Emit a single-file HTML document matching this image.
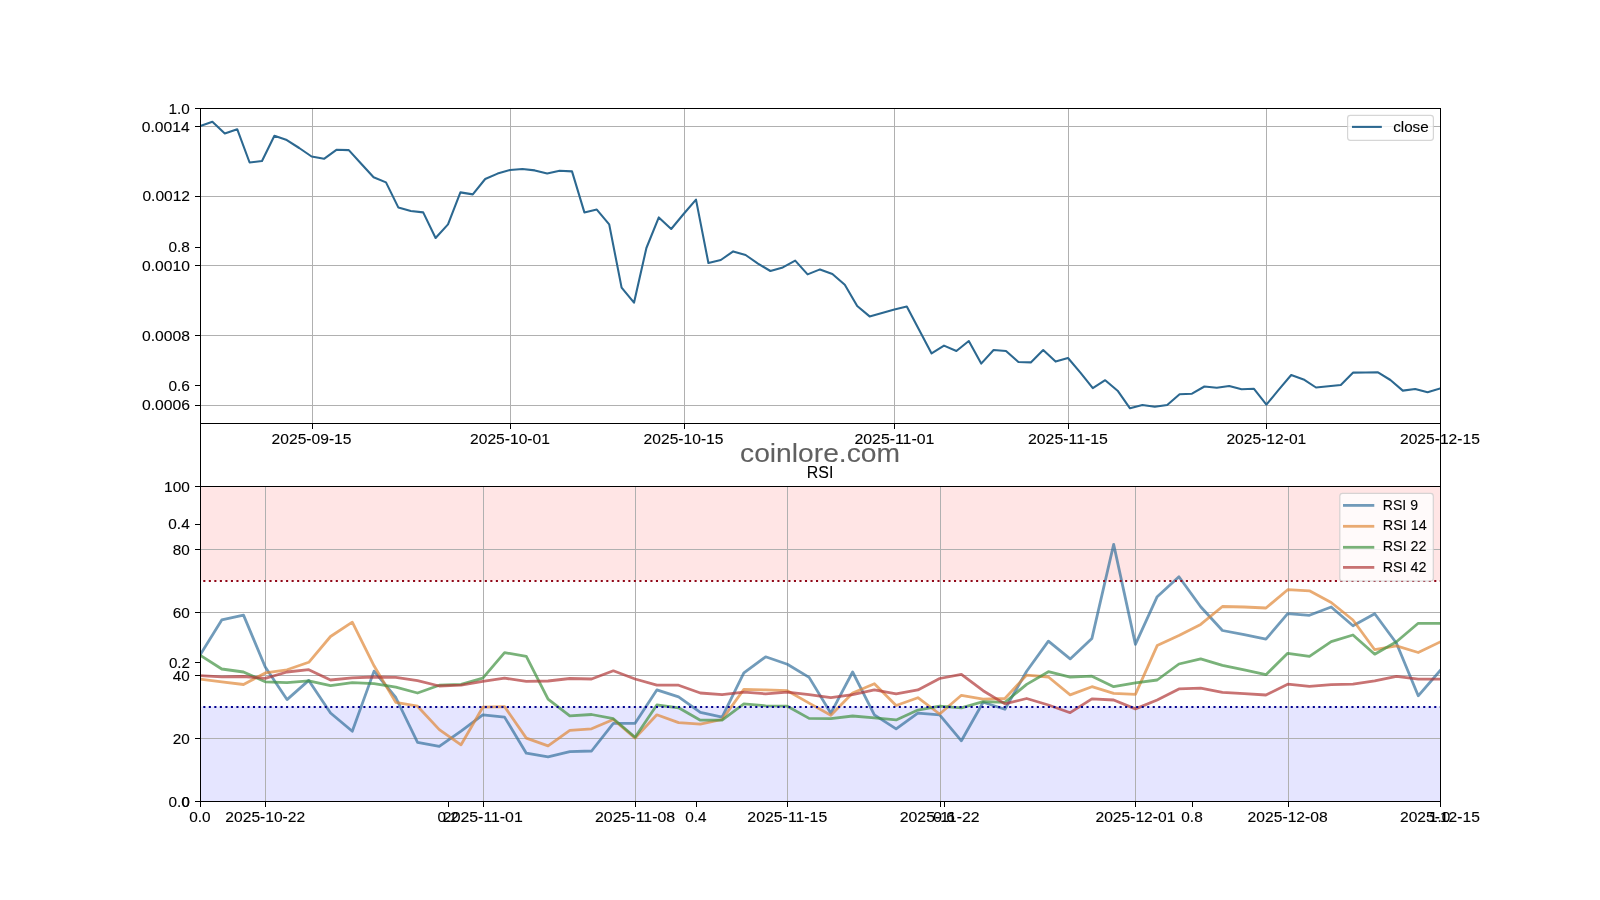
<!DOCTYPE html>
<html><head><meta charset="utf-8"><title>coinlore RSI chart</title>
<style>
html,body{margin:0;padding:0;background:#fff;width:1600px;height:900px;overflow:hidden}
svg{display:block;will-change:transform}
text{font-family:"Liberation Sans",sans-serif;stroke:currentColor;stroke-width:0.1px}
</style></head><body>
<svg width="1600" height="900" viewBox="0 0 1600 900" shape-rendering="geometricPrecision">
<rect width="1600" height="900" fill="#fff"/>
<rect x="200" y="108" width="1241" height="1" fill="#000"/>
<rect x="200" y="801" width="1241" height="1" fill="#000"/>
<rect x="200" y="108" width="1" height="694" fill="#000"/>
<rect x="1440" y="108" width="1" height="694" fill="#000"/>
<rect x="195" y="801" width="5" height="1" fill="#000"/>
<text x="168.46" y="807.00" font-size="14.10" textLength="21.37" lengthAdjust="spacingAndGlyphs" fill="#000" color="#000">0.0</text>
<rect x="200" y="802" width="1" height="5" fill="#000"/>
<text x="189.30" y="821.60" font-size="14.10" textLength="21.37" lengthAdjust="spacingAndGlyphs" fill="#000" color="#000">0.0</text>
<rect x="195" y="662" width="5" height="1" fill="#000"/>
<text x="168.92" y="668.00" font-size="14.10" textLength="21.10" lengthAdjust="spacingAndGlyphs" fill="#000" color="#000">0.2</text>
<rect x="448" y="802" width="1" height="5" fill="#000"/>
<text x="437.53" y="821.60" font-size="14.10" textLength="21.10" lengthAdjust="spacingAndGlyphs" fill="#000" color="#000">0.2</text>
<rect x="195" y="524" width="5" height="1" fill="#000"/>
<text x="168.32" y="529.00" font-size="14.10" textLength="21.36" lengthAdjust="spacingAndGlyphs" fill="#000" color="#000">0.4</text>
<rect x="696" y="802" width="1" height="5" fill="#000"/>
<text x="685.23" y="821.60" font-size="14.10" textLength="21.36" lengthAdjust="spacingAndGlyphs" fill="#000" color="#000">0.4</text>
<rect x="195" y="385" width="5" height="1" fill="#000"/>
<text x="168.42" y="391.00" font-size="14.10" textLength="21.49" lengthAdjust="spacingAndGlyphs" fill="#000" color="#000">0.6</text>
<rect x="944" y="802" width="1" height="5" fill="#000"/>
<text x="933.27" y="821.60" font-size="14.10" textLength="21.49" lengthAdjust="spacingAndGlyphs" fill="#000" color="#000">0.6</text>
<rect x="195" y="247" width="5" height="1" fill="#000"/>
<text x="168.49" y="252.00" font-size="14.10" textLength="21.42" lengthAdjust="spacingAndGlyphs" fill="#000" color="#000">0.8</text>
<rect x="1192" y="802" width="1" height="5" fill="#000"/>
<text x="1181.31" y="821.60" font-size="14.10" textLength="21.42" lengthAdjust="spacingAndGlyphs" fill="#000" color="#000">0.8</text>
<rect x="195" y="108" width="5" height="1" fill="#000"/>
<text x="168.55" y="114.00" font-size="14.10" textLength="21.28" lengthAdjust="spacingAndGlyphs" fill="#000" color="#000">1.0</text>
<rect x="1440" y="802" width="1" height="5" fill="#000"/>
<text x="1429.07" y="821.60" font-size="14.10" textLength="21.28" lengthAdjust="spacingAndGlyphs" fill="#000" color="#000">1.0</text>
<rect x="201" y="109" width="1239" height="314" fill="#fff"/>
<rect x="312" y="108" width="1" height="315" fill="#b0b0b0"/>
<rect x="510" y="108" width="1" height="315" fill="#b0b0b0"/>
<rect x="684" y="108" width="1" height="315" fill="#b0b0b0"/>
<rect x="894" y="108" width="1" height="315" fill="#b0b0b0"/>
<rect x="1068" y="108" width="1" height="315" fill="#b0b0b0"/>
<rect x="1266" y="108" width="1" height="315" fill="#b0b0b0"/>
<rect x="1440" y="108" width="1" height="315" fill="#b0b0b0"/>
<rect x="200" y="126" width="1240" height="1" fill="#b0b0b0"/>
<rect x="200" y="196" width="1240" height="1" fill="#b0b0b0"/>
<rect x="200" y="265" width="1240" height="1" fill="#b0b0b0"/>
<rect x="200" y="335" width="1240" height="1" fill="#b0b0b0"/>
<rect x="200" y="405" width="1240" height="1" fill="#b0b0b0"/>
<clipPath id="c1"><rect x="200" y="108" width="1241" height="316"/></clipPath>
<polyline clip-path="url(#c1)" points="200.00,126.10 212.40,121.80 224.80,133.40 237.20,129.20 249.60,162.50 262.00,161.00 274.40,135.80 286.80,140.10 299.20,148.00 311.60,156.50 324.00,158.80 336.40,149.80 348.80,150.10 361.20,163.80 373.60,177.30 386.00,182.40 398.40,207.60 410.80,211.00 423.20,212.40 435.60,238.00 448.00,224.40 460.40,192.40 472.80,194.40 485.20,179.00 497.60,173.60 510.00,170.00 522.40,169.00 534.80,170.40 547.20,173.40 559.60,170.80 572.00,171.40 584.40,212.40 596.80,209.60 609.20,224.40 621.60,287.60 634.00,302.70 646.40,248.00 658.80,217.40 671.20,229.00 683.60,214.00 696.00,199.60 708.40,263.00 720.80,260.00 733.20,251.40 745.60,255.00 758.00,263.60 770.40,271.00 782.80,267.40 795.20,260.60 807.60,274.40 820.00,269.40 832.40,274.00 844.80,284.70 857.20,306.00 869.60,316.40 882.00,313.00 894.40,309.60 906.80,306.60 919.20,330.00 931.60,353.40 944.00,345.60 956.40,351.00 968.80,341.00 981.20,363.60 993.60,350.00 1006.00,351.00 1018.40,362.00 1030.80,362.40 1043.20,350.00 1055.60,361.60 1068.00,358.00 1080.40,372.70 1092.80,388.20 1105.20,380.20 1117.60,390.70 1130.00,408.30 1142.40,405.00 1154.80,406.80 1167.20,405.00 1179.60,394.20 1192.00,393.70 1204.40,386.50 1216.80,387.70 1229.20,386.00 1241.60,389.20 1254.00,388.80 1266.40,404.60 1278.80,389.70 1291.20,375.00 1303.60,379.40 1316.00,387.50 1328.40,386.20 1340.80,385.00 1353.20,372.60 1365.60,372.50 1378.00,372.30 1390.40,380.00 1402.80,390.60 1415.20,389.00 1427.60,392.20 1440.00,388.50" fill="none" stroke="#2c6890" stroke-width="2.08" stroke-linejoin="round" stroke-linecap="square"/>
<rect x="1347.6" y="115.3" width="85.8" height="25.1" rx="2.8" fill="#fff" fill-opacity="0.8" stroke="#ccc" stroke-opacity="0.8" stroke-width="1.2"/>
<line x1="1353.0" y1="126.9" x2="1380.8" y2="126.9" stroke="#2c6890" stroke-width="2.08" stroke-linecap="square"/>
<text x="1393.20" y="131.90" font-size="14.10" textLength="35.50" lengthAdjust="spacingAndGlyphs" fill="#000" color="#000">close</text>
<rect x="200" y="108" width="1241" height="1" fill="#000"/>
<rect x="200" y="423" width="1241" height="1" fill="#000"/>
<rect x="200" y="108" width="1" height="316" fill="#000"/>
<rect x="1440" y="108" width="1" height="316" fill="#000"/>
<rect x="312" y="424" width="1" height="5" fill="#000"/>
<text x="271.61" y="444.10" font-size="14.10" textLength="79.82" lengthAdjust="spacingAndGlyphs" fill="#000" color="#000">2025-09-15</text>
<rect x="510" y="424" width="1" height="5" fill="#000"/>
<text x="470.05" y="444.10" font-size="14.10" textLength="79.87" lengthAdjust="spacingAndGlyphs" fill="#000" color="#000">2025-10-01</text>
<rect x="684" y="424" width="1" height="5" fill="#000"/>
<text x="643.61" y="444.10" font-size="14.10" textLength="79.82" lengthAdjust="spacingAndGlyphs" fill="#000" color="#000">2025-10-15</text>
<rect x="894" y="424" width="1" height="5" fill="#000"/>
<text x="854.44" y="444.10" font-size="14.10" textLength="79.91" lengthAdjust="spacingAndGlyphs" fill="#000" color="#000">2025-11-01</text>
<rect x="1068" y="424" width="1" height="5" fill="#000"/>
<text x="1028.00" y="444.10" font-size="14.10" textLength="79.86" lengthAdjust="spacingAndGlyphs" fill="#000" color="#000">2025-11-15</text>
<rect x="1266" y="424" width="1" height="5" fill="#000"/>
<text x="1226.45" y="444.10" font-size="14.10" textLength="79.87" lengthAdjust="spacingAndGlyphs" fill="#000" color="#000">2025-12-01</text>
<rect x="1440" y="424" width="1" height="5" fill="#000"/>
<text x="1400.01" y="444.10" font-size="14.10" textLength="79.82" lengthAdjust="spacingAndGlyphs" fill="#000" color="#000">2025-12-15</text>
<rect x="195" y="126" width="5" height="1" fill="#000"/>
<text x="141.81" y="132.00" font-size="14.10" textLength="47.89" lengthAdjust="spacingAndGlyphs" fill="#000" color="#000">0.0014</text>
<rect x="195" y="196" width="5" height="1" fill="#000"/>
<text x="142.40" y="201.00" font-size="14.10" textLength="47.64" lengthAdjust="spacingAndGlyphs" fill="#000" color="#000">0.0012</text>
<rect x="195" y="265" width="5" height="1" fill="#000"/>
<text x="141.95" y="271.00" font-size="14.10" textLength="47.91" lengthAdjust="spacingAndGlyphs" fill="#000" color="#000">0.0010</text>
<rect x="195" y="335" width="5" height="1" fill="#000"/>
<text x="141.98" y="341.00" font-size="14.10" textLength="47.95" lengthAdjust="spacingAndGlyphs" fill="#000" color="#000">0.0008</text>
<rect x="195" y="405" width="5" height="1" fill="#000"/>
<text x="141.91" y="410.00" font-size="14.10" textLength="48.02" lengthAdjust="spacingAndGlyphs" fill="#000" color="#000">0.0006</text>
<rect x="201" y="487" width="1239" height="314" fill="#fff"/>
<rect x="201" y="487" width="1239" height="93.50" fill="#ffe5e5"/>
<rect x="201" y="706.5" width="1239" height="94.50" fill="#e5e5ff"/>
<rect x="265" y="486" width="1" height="315" fill="#b0b0b0"/>
<rect x="483" y="486" width="1" height="315" fill="#b0b0b0"/>
<rect x="635" y="486" width="1" height="315" fill="#b0b0b0"/>
<rect x="787" y="486" width="1" height="315" fill="#b0b0b0"/>
<rect x="940" y="486" width="1" height="315" fill="#b0b0b0"/>
<rect x="1135" y="486" width="1" height="315" fill="#b0b0b0"/>
<rect x="1288" y="486" width="1" height="315" fill="#b0b0b0"/>
<rect x="1440" y="486" width="1" height="315" fill="#b0b0b0"/>
<rect x="200" y="801" width="1240" height="1" fill="#b0b0b0"/>
<rect x="200" y="738" width="1240" height="1" fill="#b0b0b0"/>
<rect x="200" y="675" width="1240" height="1" fill="#b0b0b0"/>
<rect x="200" y="612" width="1240" height="1" fill="#b0b0b0"/>
<rect x="200" y="549" width="1240" height="1" fill="#b0b0b0"/>
<rect x="200" y="486" width="1240" height="1" fill="#b0b0b0"/>
<clipPath id="c2"><rect x="200" y="486" width="1241" height="316"/></clipPath>
<polyline clip-path="url(#c2)" points="200.00,655.10 221.75,619.90 243.51,615.10 265.26,667.00 287.02,699.60 308.77,680.40 330.52,713.00 352.28,731.30 374.03,671.10 395.79,697.50 417.54,742.30 439.29,746.40 461.05,731.10 482.80,714.80 504.56,717.10 526.31,753.20 548.06,756.80 569.82,751.70 591.57,751.00 613.33,723.30 635.08,723.30 656.83,689.90 678.59,696.90 700.34,712.40 722.10,717.10 743.85,672.80 765.60,656.80 787.36,664.20 809.11,677.40 830.87,713.20 852.62,672.00 874.37,714.80 896.13,728.80 917.88,713.20 939.64,714.80 961.39,740.80 983.14,702.30 1004.90,709.30 1026.65,671.20 1048.41,641.10 1070.16,658.90 1091.91,638.40 1113.67,544.40 1135.42,644.40 1157.18,596.70 1178.93,576.70 1200.68,606.70 1222.44,630.50 1244.19,634.70 1265.95,639.20 1287.70,613.70 1309.45,615.30 1331.21,607.00 1352.96,625.80 1374.72,613.70 1396.47,643.30 1418.22,695.80 1439.98,670.80" fill="none" stroke="#34719c" stroke-opacity="0.7" stroke-width="2.78" stroke-linejoin="round" stroke-linecap="square"/>
<polyline clip-path="url(#c2)" points="200.00,679.20 221.75,681.80 243.51,684.50 265.26,672.90 287.02,669.80 308.77,662.30 330.52,636.50 352.28,622.20 374.03,665.80 395.79,702.40 417.54,706.20 439.29,729.60 461.05,744.80 482.80,707.20 504.56,706.60 526.31,738.10 548.06,745.90 569.82,730.30 591.57,728.80 613.33,719.50 635.08,738.10 656.83,714.80 678.59,722.60 700.34,724.10 722.10,719.50 743.85,689.40 765.60,689.90 787.36,690.70 809.11,703.10 830.87,715.30 852.62,693.00 874.37,683.70 896.13,705.50 917.88,697.70 939.64,714.00 961.39,695.30 983.14,699.20 1004.90,698.50 1026.65,675.10 1048.41,677.00 1070.16,694.90 1091.91,686.70 1113.67,693.30 1135.42,694.40 1157.18,645.60 1178.93,635.60 1200.68,624.40 1222.44,606.50 1244.19,607.00 1265.95,608.00 1287.70,589.70 1309.45,590.80 1331.21,602.50 1352.96,620.00 1374.72,649.70 1396.47,645.80 1418.22,652.50 1439.98,642.00" fill="none" stroke="#e08738" stroke-opacity="0.7" stroke-width="2.78" stroke-linejoin="round" stroke-linecap="square"/>
<polyline clip-path="url(#c2)" points="200.00,655.10 221.75,669.00 243.51,672.00 265.26,681.80 287.02,682.70 308.77,680.90 330.52,685.70 352.28,682.70 374.03,683.70 395.79,687.20 417.54,693.00 439.29,685.20 461.05,684.40 482.80,678.20 504.56,652.60 526.31,656.40 548.06,699.20 569.82,715.90 591.57,714.50 613.33,718.70 635.08,737.30 656.83,705.00 678.59,707.80 700.34,720.20 722.10,720.20 743.85,703.90 765.60,705.80 787.36,706.20 809.11,718.40 830.87,718.70 852.62,716.00 874.37,717.90 896.13,719.90 917.88,710.10 939.64,706.20 961.39,707.80 983.14,701.60 1004.90,702.30 1026.65,684.40 1048.41,671.70 1070.16,677.10 1091.91,676.20 1113.67,686.70 1135.42,682.90 1157.18,680.00 1178.93,664.00 1200.68,658.90 1222.44,665.30 1244.19,669.80 1265.95,674.70 1287.70,653.30 1309.45,656.30 1331.21,641.70 1352.96,635.00 1374.72,654.20 1396.47,641.70 1418.22,623.30 1439.98,623.30" fill="none" stroke="#409240" stroke-opacity="0.7" stroke-width="2.78" stroke-linejoin="round" stroke-linecap="square"/>
<polyline clip-path="url(#c2)" points="200.00,675.60 221.75,676.80 243.51,676.50 265.26,678.30 287.02,672.00 308.77,669.70 330.52,680.00 352.28,677.90 374.03,677.00 395.79,677.40 417.54,680.60 439.29,686.00 461.05,685.20 482.80,681.30 504.56,678.20 526.31,681.30 548.06,681.00 569.82,678.50 591.57,679.00 613.33,670.80 635.08,679.00 656.83,685.20 678.59,685.20 700.34,693.00 722.10,694.60 743.85,692.20 765.60,693.80 787.36,692.20 809.11,694.60 830.87,697.70 852.62,694.60 874.37,689.90 896.13,693.80 917.88,689.90 939.64,678.50 961.39,674.30 983.14,690.70 1004.90,703.90 1026.65,698.50 1048.41,705.00 1070.16,712.70 1091.91,698.90 1113.67,700.00 1135.42,708.90 1157.18,700.00 1178.93,688.90 1200.68,688.20 1222.44,692.30 1244.19,693.70 1265.95,695.00 1287.70,684.20 1309.45,686.30 1331.21,684.70 1352.96,684.20 1374.72,680.80 1396.47,676.30 1418.22,679.20 1439.98,679.20" fill="none" stroke="#b13737" stroke-opacity="0.7" stroke-width="2.78" stroke-linejoin="round" stroke-linecap="square"/>
<line x1="200" y1="581" x2="1440" y2="581" stroke="#900818" stroke-width="2" stroke-dasharray="2.08 3.44" stroke-dashoffset="2.24"/>
<line x1="200" y1="707" x2="1440" y2="707" stroke="#00008c" stroke-width="2" stroke-dasharray="2.08 3.44" stroke-dashoffset="2.24"/>
<rect x="1339.8" y="493.4" width="93.5" height="87.6" rx="2.8" fill="#fff" fill-opacity="0.8" stroke="#ccc" stroke-opacity="0.8" stroke-width="1.2"/>
<line x1="1344.4" y1="505.40" x2="1372.9" y2="505.40" stroke="#34719c" stroke-opacity="0.7" stroke-width="2.78" stroke-linecap="square"/>
<text x="1382.79" y="510.00" font-size="14.10" textLength="35.18" lengthAdjust="spacingAndGlyphs" fill="#000" color="#000">RSI 9</text>
<line x1="1344.4" y1="526.30" x2="1372.9" y2="526.30" stroke="#e08738" stroke-opacity="0.7" stroke-width="2.78" stroke-linecap="square"/>
<text x="1382.76" y="530.00" font-size="14.10" textLength="44.02" lengthAdjust="spacingAndGlyphs" fill="#000" color="#000">RSI 14</text>
<line x1="1344.4" y1="547.30" x2="1372.9" y2="547.30" stroke="#409240" stroke-opacity="0.7" stroke-width="2.78" stroke-linecap="square"/>
<text x="1382.77" y="551.00" font-size="14.10" textLength="43.74" lengthAdjust="spacingAndGlyphs" fill="#000" color="#000">RSI 22</text>
<line x1="1344.4" y1="567.40" x2="1372.9" y2="567.40" stroke="#b13737" stroke-opacity="0.7" stroke-width="2.78" stroke-linecap="square"/>
<text x="1382.77" y="572.00" font-size="14.10" textLength="43.74" lengthAdjust="spacingAndGlyphs" fill="#000" color="#000">RSI 42</text>
<rect x="200" y="486" width="1241" height="1" fill="#000"/>
<rect x="200" y="801" width="1241" height="1" fill="#000"/>
<rect x="200" y="486" width="1" height="316" fill="#000"/>
<rect x="1440" y="486" width="1" height="316" fill="#000"/>
<rect x="265" y="802" width="1" height="5" fill="#000"/>
<text x="225.36" y="822.10" font-size="14.10" textLength="79.81" lengthAdjust="spacingAndGlyphs" fill="#000" color="#000">2025-10-22</text>
<rect x="483" y="802" width="1" height="5" fill="#000"/>
<text x="442.85" y="822.10" font-size="14.10" textLength="79.91" lengthAdjust="spacingAndGlyphs" fill="#000" color="#000">2025-11-01</text>
<rect x="635" y="802" width="1" height="5" fill="#000"/>
<text x="594.97" y="822.10" font-size="14.10" textLength="80.15" lengthAdjust="spacingAndGlyphs" fill="#000" color="#000">2025-11-08</text>
<rect x="787" y="802" width="1" height="5" fill="#000"/>
<text x="747.37" y="822.10" font-size="14.10" textLength="79.86" lengthAdjust="spacingAndGlyphs" fill="#000" color="#000">2025-11-15</text>
<rect x="940" y="802" width="1" height="5" fill="#000"/>
<text x="899.74" y="822.10" font-size="14.10" textLength="79.84" lengthAdjust="spacingAndGlyphs" fill="#000" color="#000">2025-11-22</text>
<rect x="1135" y="802" width="1" height="5" fill="#000"/>
<text x="1095.49" y="822.10" font-size="14.10" textLength="79.87" lengthAdjust="spacingAndGlyphs" fill="#000" color="#000">2025-12-01</text>
<rect x="1288" y="802" width="1" height="5" fill="#000"/>
<text x="1247.61" y="822.10" font-size="14.10" textLength="80.11" lengthAdjust="spacingAndGlyphs" fill="#000" color="#000">2025-12-08</text>
<rect x="1440" y="802" width="1" height="5" fill="#000"/>
<text x="1400.01" y="822.10" font-size="14.10" textLength="79.82" lengthAdjust="spacingAndGlyphs" fill="#000" color="#000">2025-12-15</text>
<rect x="195" y="801" width="5" height="1" fill="#000"/>
<text x="181.76" y="807.00" font-size="14.10" textLength="8.05" lengthAdjust="spacingAndGlyphs" fill="#000" color="#000">0</text>
<rect x="195" y="738" width="5" height="1" fill="#000"/>
<text x="172.82" y="744.00" font-size="14.10" textLength="17.04" lengthAdjust="spacingAndGlyphs" fill="#000" color="#000">20</text>
<rect x="195" y="675" width="5" height="1" fill="#000"/>
<text x="172.89" y="681.00" font-size="14.10" textLength="16.96" lengthAdjust="spacingAndGlyphs" fill="#000" color="#000">40</text>
<rect x="195" y="612" width="5" height="1" fill="#000"/>
<text x="172.78" y="618.00" font-size="14.10" textLength="17.08" lengthAdjust="spacingAndGlyphs" fill="#000" color="#000">60</text>
<rect x="195" y="549" width="5" height="1" fill="#000"/>
<text x="172.87" y="555.00" font-size="14.10" textLength="16.99" lengthAdjust="spacingAndGlyphs" fill="#000" color="#000">80</text>
<rect x="195" y="486" width="5" height="1" fill="#000"/>
<text x="164.13" y="492.00" font-size="14.10" textLength="25.71" lengthAdjust="spacingAndGlyphs" fill="#000" color="#000">100</text>
<text x="806.82" y="477.80" font-size="16.90" textLength="26.51" lengthAdjust="spacingAndGlyphs" fill="#000" color="#000">RSI</text>
<text x="740.02" y="461.80" font-size="25.90" textLength="160.04" lengthAdjust="spacingAndGlyphs" fill="#606060" color="#606060">coinlore.com</text>
</svg>
</body></html>
